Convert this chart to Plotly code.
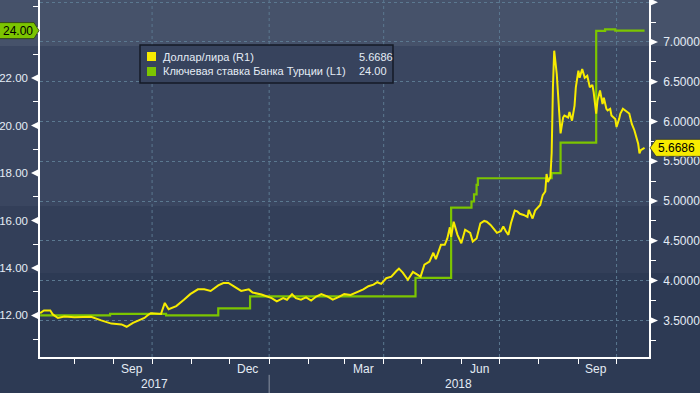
import plotly.graph_objects as go

# ---------------- data ----------------
usd_try_dates = [
    "2017-07-05", "2017-07-08", "2017-07-13", "2017-07-15", "2017-07-19", "2017-07-24",
    "2017-08-01", "2017-08-14", "2017-08-22", "2017-08-30", "2017-09-07", "2017-09-11",
    "2017-09-16", "2017-09-20", "2017-09-25", "2017-09-28", "2017-09-30", "2017-10-08",
    "2017-10-11", "2017-10-14", "2017-10-20", "2017-10-26", "2017-10-31", "2017-11-06",
    "2017-11-11", "2017-11-16", "2017-11-22", "2017-11-26", "2017-11-30", "2017-12-04",
    "2017-12-10", "2017-12-16", "2017-12-19", "2017-12-26", "2018-01-03", "2018-01-07",
    "2018-01-12", "2018-01-15", "2018-01-19", "2018-01-22", "2018-01-26", "2018-01-30",
    "2018-02-03", "2018-02-07", "2018-02-11", "2018-02-16", "2018-02-20", "2018-02-24",
    "2018-03-01", "2018-03-06", "2018-03-11", "2018-03-16", "2018-03-20", "2018-03-24",
    "2018-03-27", "2018-03-30", "2018-04-03", "2018-04-07", "2018-04-11", "2018-04-13",
    "2018-04-16", "2018-04-20", "2018-04-24", "2018-04-28", "2018-04-30", "2018-05-03",
    "2018-05-07", "2018-05-10", "2018-05-12", "2018-05-16", "2018-05-19", "2018-05-21",
    "2018-05-23", "2018-05-24", "2018-05-26", "2018-05-29", "2018-06-01", "2018-06-04",
    "2018-06-08", "2018-06-10", "2018-06-13", "2018-06-16", "2018-06-19", "2018-06-21",
    "2018-06-24", "2018-06-27", "2018-06-29", "2018-07-02", "2018-07-04", "2018-07-06",
    "2018-07-08", "2018-07-10", "2018-07-13", "2018-07-15", "2018-07-17", "2018-07-20",
    "2018-07-23", "2018-07-24", "2018-07-27", "2018-07-29", "2018-07-31", "2018-08-02",
    "2018-08-04", "2018-08-06", "2018-08-07", "2018-08-08", "2018-08-10", "2018-08-11",
    "2018-08-12", "2018-08-13", "2018-08-15", "2018-08-17", "2018-08-18", "2018-08-20",
    "2018-08-21", "2018-08-24", "2018-08-25", "2018-08-27", "2018-08-29", "2018-08-30",
    "2018-09-01", "2018-09-02", "2018-09-04", "2018-09-06", "2018-09-08", "2018-09-10",
    "2018-09-12", "2018-09-13", "2018-09-15", "2018-09-16", "2018-09-18", "2018-09-20",
    "2018-09-21", "2018-09-23", "2018-09-24", "2018-09-26", "2018-09-27", "2018-09-30",
    "2018-10-01", "2018-10-03", "2018-10-04", "2018-10-06", "2018-10-08", "2018-10-11",
    "2018-10-13", "2018-10-15", "2018-10-18", "2018-10-19", "2018-10-20", "2018-10-22",
    "2018-10-23",
]
usd_try_values = [
    3.59, 3.625, 3.625, 3.575, 3.53, 3.55,
    3.54, 3.545, 3.50, 3.46, 3.45, 3.42,
    3.47, 3.50, 3.53, 3.57, 3.59, 3.58,
    3.72, 3.64, 3.68, 3.76, 3.83, 3.89,
    3.89, 3.87, 3.94, 3.97, 3.97, 3.93,
    3.87, 3.89, 3.85, 3.825, 3.78, 3.74,
    3.78, 3.76, 3.83, 3.78, 3.76, 3.79,
    3.75, 3.80, 3.83, 3.80, 3.76, 3.79,
    3.83, 3.82, 3.85, 3.89, 3.93, 3.95,
    3.98, 3.96, 4.03, 4.05, 4.12, 4.15,
    4.10, 4.01, 4.11, 4.075, 4.05, 4.20,
    4.24, 4.35, 4.27, 4.45, 4.45, 4.53,
    4.67, 4.55, 4.74, 4.575, 4.47, 4.64,
    4.60, 4.49, 4.53, 4.72, 4.75, 4.74,
    4.70, 4.64, 4.60, 4.62, 4.68, 4.62,
    4.575, 4.72, 4.88, 4.87, 4.84, 4.825,
    4.80, 4.89, 4.78, 4.88, 4.91, 4.95,
    5.075, 5.12, 5.34, 5.24, 5.30, 5.60,
    6.43, 6.89, 6.60, 6.10, 5.85, 6.05,
    6.075, 6.05, 6.12, 6.01, 6.20, 6.43,
    6.64, 6.55, 6.66, 6.55, 6.575, 6.43,
    6.46, 6.37, 6.10, 6.26, 6.39, 6.22,
    6.30, 6.16, 6.14, 6.16, 6.075, 6.03,
    5.93, 6.03, 6.10, 6.16, 6.14, 6.10,
    5.97, 5.89, 5.72, 5.60, 5.64, 5.66,
    5.6686,
]

rate_dates = [
    "2017-07-05", "2017-08-29", "2017-10-12", "2017-11-22", "2017-12-17",
    "2018-04-26", "2018-05-24", "2018-06-09", "2018-06-11", "2018-06-13",
    "2018-06-14", "2018-08-11", "2018-08-18", "2018-09-15", "2018-09-22",
    "2018-09-30", "2018-10-23",
]
rate_values = [
    12.00, 12.07, 12.00, 12.30, 12.80,
    13.58, 16.54, 16.80, 17.10, 17.50,
    17.78, 18.00, 19.28, 23.99, 24.05,
    24.00, 24.00,
]

series_names = ["Доллар/лира (R1)", "Ключевая ставка Банка Турции (L1)"]
last_usd = "5.6686"
last_rate = "24.00"

left_ticks = [12, 14, 16, 18, 20, 22, 24]
left_labels = ["12.00", "14.00", "16.00", "18.00", "20.00", "22.00", ""]
right_ticks = [3.5, 4.0, 4.5, 5.0, 5.5, 6.0, 6.5, 7.0, 7.5]
right_labels = ["3.5000", "4.0000", "4.5000", "5.0000", "5.5000", "6.0000", "6.5000", "7.0000", ""]

month_starts = ["2017-08-01", "2017-09-01", "2017-10-01", "2017-11-01", "2017-12-01",
                "2018-01-01", "2018-02-01", "2018-03-01", "2018-04-01", "2018-05-01",
                "2018-06-01", "2018-07-01", "2018-08-01", "2018-09-01", "2018-10-01"]
quarter_lines = ["2017-10-01", "2018-01-01", "2018-04-01", "2018-07-01", "2018-10-01"]
month_label_pos = ["2017-09-15", "2017-12-15", "2018-03-16", "2018-06-15", "2018-09-15"]
month_label_txt = ["Sep", "Dec", "Mar", "Jun", "Sep"]
year_label_pos = ["2017-10-03", "2018-05-30"]
year_label_txt = ["2017", "2018"]

YELLOW = "#f7eb00"
GREEN = "#7cc500"
FONT = "Liberation Sans, Arial, sans-serif"
TXT = "#e4ecf5"

fig = go.Figure()
fig.add_trace(go.Scatter(x=rate_dates, y=rate_values, mode="lines", line=dict(color=GREEN, width=2.2, shape="hv"),
                         name=series_names[1], yaxis="y"))
fig.add_trace(go.Scatter(x=usd_try_dates, y=usd_try_values, mode="lines", line=dict(color=YELLOW, width=2),
                         name=series_names[0], yaxis="y2"))

shapes = []
# background bands
bands = [(0.871, 1.2, "#46526a"), (0.423, 0.871, "#3a4660"), (0.235, 0.423, "#333f59")]
for y0, y1, c in bands:
    shapes.append(dict(type="rect", xref="paper", yref="paper", x0=-0.2, x1=1.2, y0=y0, y1=y1,
                       fillcolor=c, line=dict(width=0), layer="below"))
# vertical quarter grid
for d in quarter_lines:
    shapes.append(dict(type="line", xref="x", yref="paper", x0=d, x1=d, y0=0, y1=1,
                       line=dict(color="#5b7890", width=1, dash="3px,3px"), layer="below"))
# year divider
shapes.append(dict(type="line", xref="x", yref="paper", x0="2018-01-01", x1="2018-01-01", y0=-0.05, y1=-0.11,
                   line=dict(color="#8a94a3", width=1)))
# left major tick triangles
for v in left_ticks:
    shapes.append(dict(type="path", xref="paper", yref="y", xsizemode="pixel", ysizemode="pixel",
                       xanchor=0, yanchor=v, path="M -2,-3.5 L -2,3.5 L -9,0 Z",
                       fillcolor="white", line=dict(width=0), layer="above"))
# right major tick triangles
for v in right_ticks:
    shapes.append(dict(type="path", xref="paper", yref="y2", xsizemode="pixel", ysizemode="pixel",
                       xanchor=1, yanchor=v, path="M 1,-3.5 L 1,3.5 L 9,0 Z",
                       fillcolor="white", line=dict(width=0), layer="above"))
# value flags
shapes.append(dict(type="path", xref="paper", yref="y", xsizemode="pixel", ysizemode="pixel",
                   xanchor=0, yanchor=rate_values[-1], path="M -42,-8 L -6,-8 L -1,0 L -6,8 L -42,8 Z",
                   fillcolor=GREEN, line=dict(color="#2a3a10", width=0.8), layer="above"))
shapes.append(dict(type="path", xref="paper", yref="y2", xsizemode="pixel", ysizemode="pixel",
                   xanchor=1, yanchor=usd_try_values[-1], path="M 1,0 L 7,-8.5 L 52,-8.5 L 52,8.5 L 7,8.5 Z",
                   fillcolor=YELLOW, line=dict(color="#333", width=0.8), layer="above"))
# legend box
lx0, lx1 = (140 - 40) / 609, (393 - 40) / 609
shapes.append(dict(type="rect", xref="paper", yref="paper", x0=lx0, x1=lx1, y0=1 - 83 / 357, y1=1 - 45 / 357,
                   fillcolor="#37435d", line=dict(color="#141a26", width=1.5), layer="above"))
for i, c in enumerate([YELLOW, GREEN]):
    ty = 56.5 + 15 * i
    shapes.append(dict(type="rect", xref="paper", yref="paper", x0=(147 - 40) / 609, x1=(156 - 40) / 609,
                       y0=1 - (ty + 4.5) / 357, y1=1 - (ty - 4.5) / 357,
                       fillcolor=c, line=dict(width=0), layer="above"))

annotations = []
for i, (name, val) in enumerate(zip(series_names, [last_usd, last_rate])):
    ty = 56.5 + 15 * i
    annotations.append(dict(xref="paper", yref="paper", x=(161 - 40) / 609, y=1 - ty / 357, xanchor="left",
                            yanchor="middle", text=name, showarrow=False, font=dict(family=FONT, size=11, color=TXT)))
    annotations.append(dict(xref="paper", yref="paper", x=(357 - 40) / 609, y=1 - ty / 357, xanchor="left",
                            yanchor="middle", text=val, showarrow=False, font=dict(family=FONT, size=11, color=TXT)))
annotations.append(dict(xref="paper", yref="y", x=0, y=rate_values[-1], xanchor="right", xshift=-5,
                        yanchor="middle", text=last_rate, showarrow=False, font=dict(family=FONT, size=12, color="black")))
annotations.append(dict(xref="paper", yref="y2", x=1, y=usd_try_values[-1], xanchor="left", xshift=7,
                        yanchor="middle", text=last_usd, showarrow=False, font=dict(family=FONT, size=12, color="black")))
for p, t in zip(month_label_pos, month_label_txt):
    annotations.append(dict(xref="x", yref="paper", x=p, y=-12 / 357, yanchor="middle", text=t,
                            showarrow=False, font=dict(family=FONT, size=12, color=TXT)))
for p, t in zip(year_label_pos, year_label_txt):
    annotations.append(dict(xref="x", yref="paper", x=p, y=-27 / 357, yanchor="middle", text=t,
                            showarrow=False, font=dict(family=FONT, size=12, color=TXT)))

fig.update_layout(
    width=700, height=393,
    margin=dict(l=40, r=51, t=0, b=36, autoexpand=False),
    paper_bgcolor="#2d3a54",
    plot_bgcolor="rgba(0,0,0,0)",
    showlegend=False,
    shapes=shapes,
    annotations=annotations,
    font=dict(family=FONT, size=12, color=TXT),
    xaxis=dict(type="date", range=["2017-07-04 22:00", "2018-10-26 12:00"], tickmode="array",
               tickvals=month_starts, ticktext=[""] * len(month_starts), ticks="outside", ticklen=5,
               tickcolor="white", tickwidth=1, showgrid=False, zeroline=False, automargin=False,
               showline=True, linecolor="white", linewidth=1.5),
    yaxis=dict(range=[10.25, 25.29], tickmode="array", tickvals=left_ticks, ticktext=left_labels,
               ticks="outside", ticklen=8, tickcolor="rgba(0,0,0,0)", showgrid=False, zeroline=False,
               showline=True, linecolor="white", linewidth=1.5, automargin=False,
               tickfont=dict(family=FONT, size=11.5, color=TXT),
               minor=dict(ticks="outside", ticklen=5, tickcolor="white", tickwidth=1,
                          tickmode="linear", tick0=11, dtick=2, showgrid=False)),
    yaxis2=dict(range=[3.04, 7.527], overlaying="y", side="right", tickmode="array", tickvals=right_ticks,
                ticktext=right_labels, ticks="outside", ticklen=10, tickcolor="rgba(0,0,0,0)",
                showgrid=True, gridcolor="#5b7890", griddash="3px,3px", gridwidth=1, zeroline=False,
                showline=True, linecolor="white", linewidth=1.5, automargin=False,
                tickfont=dict(family=FONT, size=12, color=TXT),
                minor=dict(ticks="outside", ticklen=5, tickcolor="white", tickwidth=1,
                           tickmode="linear", tick0=3.25, dtick=0.5, showgrid=False)),
)

fig.write_html("out.html", config={"displayModeBar": False},
               post_script="document.body.style.margin='0px';document.body.style.overflow='hidden';")
